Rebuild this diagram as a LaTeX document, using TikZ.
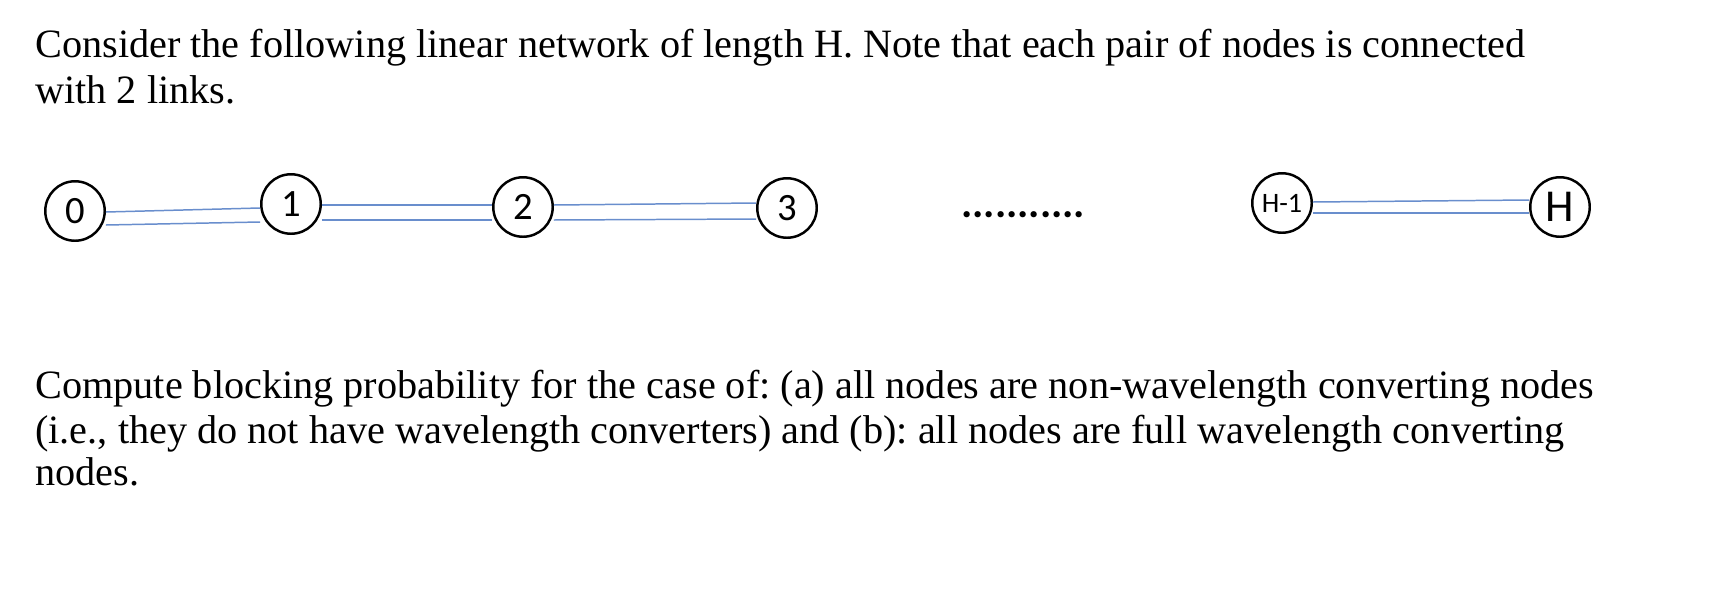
\documentclass[tikz,border=0pt]{standalone}
\usepackage{fontspec}
\setmainfont{Liberation Serif}
\newfontfamily\nodefont{Carlito}
\usetikzlibrary{positioning,calc}
\definecolor{linkblue}{RGB}{105,142,205}
\tikzset{
  netnode/.style={circle, draw, line width=1.4pt, fill=white, minimum size=1.19cm, inner sep=0pt, font=\nodefont\fontsize{22}{22}\selectfont},
  link/.style={draw=linkblue, line width=0.85pt},
  para/.style={anchor=base west, inner sep=0pt, font=\frenchspacing\fontsize{22.9}{27}\selectfont},
}

\begin{document}
\begin{tikzpicture}[x=0.02cm, y=-0.02cm]
    \useasboundingbox (0,0) rectangle (1718,592);

    % question text
    \node[para] (q1) at (35,57) {Consider the following linear network of length H. Note that each pair of nodes is connected};
    \node[para] (q2) at (35,103) {with 2 links.};

    % linear network
    \draw (75,211) node[netnode] (n0) {0};
    \draw (291,204) node[netnode] (n1) {1};
    \draw (523,207) node[netnode] (n2) {2};
    \draw (787,208) node[netnode] (n3) {3};
    \node[font=\nodefont\bfseries\fontsize{24}{24}\selectfont, anchor=base west, inner sep=0pt] (dots) at (961,217) {...........};
    \draw (1282,203) node[netnode, font=\nodefont\fontsize{16}{16}\selectfont] (nH1) {H-1};
    \draw (1560,207) node[netnode, font=\nodefont\fontsize{26}{26}\selectfont] (nH) {H};

    % two links between each pair
    \draw[link] ($(n0.east)+(0,1)$) -- ($(n1.west)+(0,4)$);
    \draw[link] ($(n0.east)+(0,14)$) -- ($(n1.west)+(0,18)$);
    \draw[link] ($(n1.east)+(0,1)$) -- ($(n2.west)+(0,-2)$);
    \draw[link] ($(n1.east)+(0,16)$) -- ($(n2.west)+(0,13)$);
    \draw[link] ($(n2.east)+(0,-2)$) -- ($(n3.west)+(0,-5)$);
    \draw[link] ($(n2.east)+(0,13)$) -- ($(n3.west)+(0,11)$);
    \draw[link] ($(nH1.east)+(0,-1)$) -- ($(nH.west)+(0,-7)$);
    \draw[link] ($(nH1.east)+(0,10)$) -- ($(nH.west)+(0,6)$);

    % question
    \node[para] (c1) at (35,398) {Compute blocking probability for the case of: (a) all nodes are non-wavelength converting nodes};
    \node[para] (c2) at (35,443) {(i.e., they do not have wavelength converters) and (b): all nodes are full wavelength converting};
    \node[para] (c3) at (35,485) {nodes.};
\end{tikzpicture}
\end{document}
